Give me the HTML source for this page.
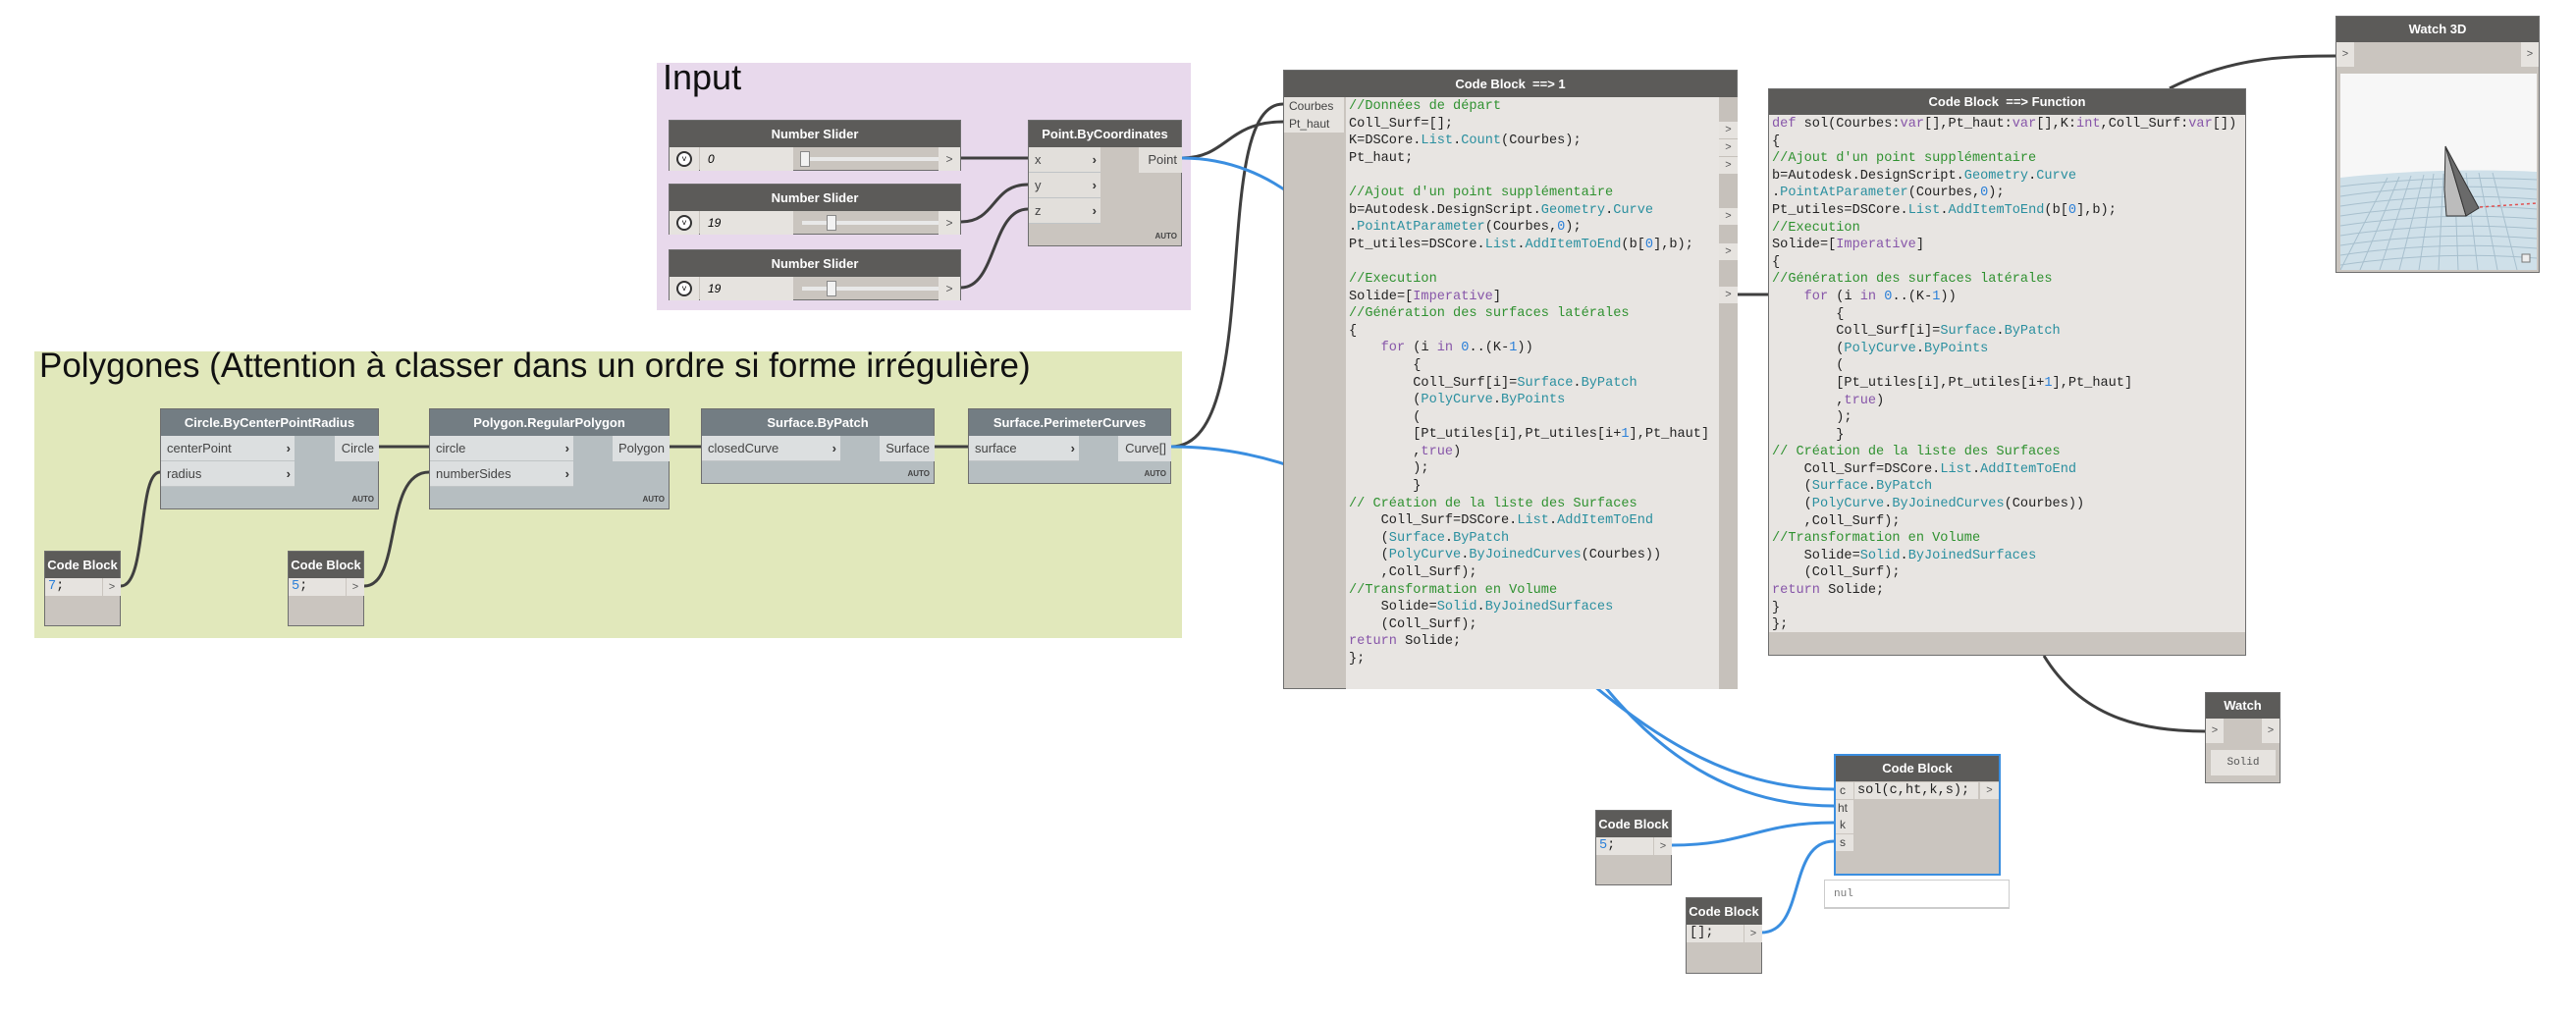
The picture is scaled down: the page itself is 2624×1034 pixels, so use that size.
<!DOCTYPE html>
<html><head><meta charset="utf-8">
<style>
*{box-sizing:border-box;margin:0;padding:0}
body{width:2624px;height:1034px;background:#fff;position:relative;overflow:hidden;font-family:"Liberation Sans","DejaVu Sans",sans-serif}
.a{position:absolute}
.grp{position:absolute}
.node{position:absolute;background:#cac5bf;border:1px solid #6e6e6e}
.hd{position:absolute;left:0;top:0;right:0;background:#5c5b59;color:#fff;font-size:13px;font-weight:bold;text-align:center}
.gn{background:#b6bec1}
.gn .hd{background:#737d83}
.prt{position:absolute;background:#dcdfe0;color:#444;font-size:13px;padding-left:6px;border-bottom:1px solid #c0c4c6}
.out{position:absolute;background:#dcdfe0;color:#444;font-size:13px;text-align:right;padding-right:5px}
.chev{position:absolute;right:4px;top:0;font-weight:bold;color:#333}
.auto{position:absolute;right:4px;font-size:8px;font-weight:bold;color:#444}
.row{position:absolute;background:#e6e3df}
pre{font-family:"Liberation Mono","DejaVu Sans Mono",monospace;font-size:13.6px;line-height:17.6px;color:#222}
.c{color:#2f9130}.k{color:#8756a9}.t{color:#2a8f9f}.n{color:#2a7fd8}
.cb{position:absolute;background:#e8e5e2}
</style></head><body>

<div class="grp" style="left:669px;top:64px;width:544px;height:252px;background:#e8d9ec"></div>
<div class="a" style="left:675px;top:58px;font-size:36px;color:#111">Input</div>
<div class="grp" style="left:35px;top:358px;width:1169px;height:292px;background:#e1e8bb"></div>
<div class="a" style="left:40px;top:353px;font-size:35px;color:#111">Polygones (Attention à classer dans un ordre si forme irrégulière)</div>

<svg class="a" style="left:0;top:0" width="2624" height="1034">
<g fill="none" stroke="#3f3f3f" stroke-width="3">
<path d="M979 161 L1047 161"/>
<path d="M979 226 C1015 226,1010 188,1047 188"/>
<path d="M979 293 C1015 293,1010 213,1047 213"/>
<path d="M386 455 L437 455"/>
<path d="M123 597 C150 597,140 481,163 481"/>
<path d="M371 597 C410 597,390 481,437 481"/>
<path d="M682 455 L714 455"/>
<path d="M952 455 L986 455"/>
<path d="M1193 455 C1290 455,1230 106,1307 106"/>
<path d="M1204 161 C1250 161,1250 124,1307 124"/>
<path d="M1770 300 L1801 300"/>
<path d="M2210 90 C2270 60,2320 57,2379 57"/>
<path d="M2082 668 C2120 730,2180 745,2246 745"/>
</g>
<g fill="none" stroke="#3a8ee0" stroke-width="3">
<path d="M1204 161 C1500 161,1500 821,1868 821"/>
<path d="M1193 455 C1500 455,1600 804,1868 804"/>
<path d="M1703 861 C1780 861,1790 838,1868 838"/>
<path d="M1794 950 C1840 950,1820 857,1868 857"/>
</g>
</svg>

<!-- sliders -->
<div class="node" style="left:681px;top:122px;width:298px;height:52px"><div class="hd" style="height:27px;line-height:27px">Number Slider</div>
<div class="row" style="left:0;top:27px;width:30px;height:24px"></div><div class="a" style="left:7px;top:31px;width:16px;height:16px;border:2px solid #333;border-radius:50%;background:#fff;font-size:9px;text-align:center;line-height:12px">˅</div>
<div class="row" style="left:31px;top:27px;width:95px;height:24px;font-style:italic;font-size:12px;line-height:24px;padding-left:8px">0</div>
<div class="a" style="left:135px;top:37px;width:140px;height:4px;background:#e8e8e8"></div>
<div class="a" style="left:133px;top:31px;width:10px;height:16px;background:#f2f2f2;border:1px solid #888"></div>
<div class="row" style="left:274px;top:27px;width:22px;height:24px;color:#555;font-size:12px;line-height:24px;text-align:center">&gt;</div></div>
<div class="node" style="left:681px;top:187px;width:298px;height:52px"><div class="hd" style="height:27px;line-height:27px">Number Slider</div>
<div class="row" style="left:0;top:27px;width:30px;height:24px"></div><div class="a" style="left:7px;top:31px;width:16px;height:16px;border:2px solid #333;border-radius:50%;background:#fff;font-size:9px;text-align:center;line-height:12px">˅</div>
<div class="row" style="left:31px;top:27px;width:95px;height:24px;font-style:italic;font-size:12px;line-height:24px;padding-left:8px">19</div>
<div class="a" style="left:135px;top:37px;width:140px;height:4px;background:#e8e8e8"></div>
<div class="a" style="left:160px;top:31px;width:10px;height:16px;background:#f2f2f2;border:1px solid #888"></div>
<div class="row" style="left:274px;top:27px;width:22px;height:24px;color:#555;font-size:12px;line-height:24px;text-align:center">&gt;</div></div>
<div class="node" style="left:681px;top:254px;width:298px;height:52px"><div class="hd" style="height:27px;line-height:27px">Number Slider</div>
<div class="row" style="left:0;top:27px;width:30px;height:24px"></div><div class="a" style="left:7px;top:31px;width:16px;height:16px;border:2px solid #333;border-radius:50%;background:#fff;font-size:9px;text-align:center;line-height:12px">˅</div>
<div class="row" style="left:31px;top:27px;width:95px;height:24px;font-style:italic;font-size:12px;line-height:24px;padding-left:8px">19</div>
<div class="a" style="left:135px;top:37px;width:140px;height:4px;background:#e8e8e8"></div>
<div class="a" style="left:160px;top:31px;width:10px;height:16px;background:#f2f2f2;border:1px solid #888"></div>
<div class="row" style="left:274px;top:27px;width:22px;height:24px;color:#555;font-size:12px;line-height:24px;text-align:center">&gt;</div></div>

<!-- Point.ByCoordinates -->
<div class="node" style="left:1047px;top:122px;width:157px;height:129px"><div class="hd" style="height:27px;line-height:27px">Point.ByCoordinates</div>
<div class="prt" style="left:0;top:27px;width:73px;height:26px;line-height:26px;background:#e2dfdb">x<span class="chev">›</span></div>
<div class="prt" style="left:0;top:53px;width:73px;height:26px;line-height:26px;background:#e2dfdb">y<span class="chev">›</span></div>
<div class="prt" style="left:0;top:79px;width:73px;height:26px;line-height:26px;background:#e2dfdb">z<span class="chev">›</span></div>
<div class="out" style="left:112px;top:27px;width:44px;height:26px;line-height:26px;background:#e2dfdb">Point</div>
<div class="auto" style="top:113px">AUTO</div></div>

<!-- polygon group nodes -->
<div class="node gn" style="left:163px;top:416px;width:223px;height:103px"><div class="hd" style="height:27px;line-height:27px">Circle.ByCenterPointRadius</div>
<div class="prt" style="left:0;top:27px;width:136px;height:26px;line-height:26px">centerPoint<span class="chev">›</span></div>
<div class="prt" style="left:0;top:53px;width:136px;height:26px;line-height:26px">radius<span class="chev">›</span></div>
<div class="out" style="left:177px;top:27px;width:45px;height:26px;line-height:26px">Circle</div>
<div class="auto" style="top:87px">AUTO</div></div>
<div class="node gn" style="left:437px;top:416px;width:245px;height:103px"><div class="hd" style="height:27px;line-height:27px">Polygon.RegularPolygon</div>
<div class="prt" style="left:0;top:27px;width:146px;height:26px;line-height:26px">circle<span class="chev">›</span></div>
<div class="prt" style="left:0;top:53px;width:146px;height:26px;line-height:26px">numberSides<span class="chev">›</span></div>
<div class="out" style="left:186px;top:27px;width:58px;height:26px;line-height:26px">Polygon</div>
<div class="auto" style="top:87px">AUTO</div></div>
<div class="node gn" style="left:714px;top:416px;width:238px;height:77px"><div class="hd" style="height:27px;line-height:27px">Surface.ByPatch</div>
<div class="prt" style="left:0;top:27px;width:141px;height:26px;line-height:26px">closedCurve<span class="chev">›</span></div>
<div class="out" style="left:181px;top:27px;width:56px;height:26px;line-height:26px">Surface</div>
<div class="auto" style="top:61px">AUTO</div></div>
<div class="node gn" style="left:986px;top:416px;width:207px;height:77px"><div class="hd" style="height:27px;line-height:27px">Surface.PerimeterCurves</div>
<div class="prt" style="left:0;top:27px;width:112px;height:26px;line-height:26px">surface<span class="chev">›</span></div>
<div class="out" style="left:152px;top:27px;width:54px;height:26px;line-height:26px">Curve[]</div>
<div class="auto" style="top:61px">AUTO</div></div>

<!-- small code blocks -->
<div class="node" style="left:45px;top:561px;width:78px;height:77px"><div class="hd" style="height:27px;line-height:27px">Code Block</div>
<div class="row" style="left:0;top:27px;width:58px;height:18px"><pre style="padding-left:3px;line-height:18px"><span class="n">7</span>;</pre></div>
<div class="row" style="left:59px;top:27px;width:18px;height:18px;font-size:11px;color:#555;text-align:center;line-height:18px">&gt;</div></div>
<div class="node" style="left:293px;top:561px;width:78px;height:77px"><div class="hd" style="height:27px;line-height:27px">Code Block</div>
<div class="row" style="left:0;top:27px;width:58px;height:18px"><pre style="padding-left:3px;line-height:18px"><span class="n">5</span>;</pre></div>
<div class="row" style="left:59px;top:27px;width:18px;height:18px;font-size:11px;color:#555;text-align:center;line-height:18px">&gt;</div></div>
<div class="node" style="left:1625px;top:825px;width:78px;height:77px"><div class="hd" style="height:27px;line-height:27px">Code Block</div>
<div class="row" style="left:0;top:27px;width:58px;height:18px"><pre style="padding-left:3px;line-height:18px"><span class="n">5</span>;</pre></div>
<div class="row" style="left:59px;top:27px;width:18px;height:18px;font-size:11px;color:#555;text-align:center;line-height:18px">&gt;</div></div>
<div class="node" style="left:1717px;top:914px;width:78px;height:78px"><div class="hd" style="height:27px;line-height:27px">Code Block</div>
<div class="row" style="left:0;top:27px;width:58px;height:18px"><pre style="padding-left:3px;line-height:18px">[];</pre></div>
<div class="row" style="left:59px;top:27px;width:18px;height:18px;font-size:11px;color:#555;text-align:center;line-height:18px">&gt;</div></div>

<!-- Code Block ==> 1 -->
<div class="node" style="left:1307px;top:71px;width:463px;height:631px"><div class="hd" style="height:27px;line-height:27px">Code Block &nbsp;==&gt; 1</div>
<div class="row" style="left:0;top:27px;width:61px;height:18px;font-size:12px;color:#444;padding-left:5px;line-height:18px">Courbes</div>
<div class="row" style="left:0;top:45px;width:61px;height:18px;font-size:12px;color:#444;padding-left:5px;line-height:18px">Pt_haut</div>
<div class="cb" style="left:63px;top:27px;width:380px;height:603px"></div>
<div class="a" style="left:443px;top:27px;width:19px;height:603px;background:#c6c1bb"></div>
<div class="a" style="left:443px;top:44px;width:19px;height:600px;font-size:11px;color:#555;text-align:center">
<div class="row" style="left:0;top:8px;width:19px;height:17px;line-height:17px">&gt;</div>
<div class="row" style="left:0;top:26px;width:19px;height:17px;line-height:17px">&gt;</div>
<div class="row" style="left:0;top:44px;width:19px;height:17px;line-height:17px">&gt;</div>
<div class="row" style="left:0;top:96px;width:19px;height:17px;line-height:17px">&gt;</div>
<div class="row" style="left:0;top:132px;width:19px;height:17px;line-height:17px">&gt;</div>
<div class="row" style="left:0;top:176px;width:19px;height:17px;line-height:17px">&gt;</div></div>
<pre class="a" style="left:66px;top:28px"><span class="c">//Données de départ</span>
Coll_Surf=[];
K=DSCore.<span class="t">List</span>.<span class="t">Count</span>(Courbes);
Pt_haut;

<span class="c">//Ajout d'un point supplémentaire</span>
b=Autodesk.DesignScript.<span class="t">Geometry</span>.<span class="t">Curve</span>
.<span class="t">PointAtParameter</span>(Courbes,<span class="n">0</span>);
Pt_utiles=DSCore.<span class="t">List</span>.<span class="t">AddItemToEnd</span>(b[<span class="n">0</span>],b);

<span class="c">//Execution</span>
Solide=[<span class="k">Imperative</span>]
<span class="c">//Génération des surfaces latérales</span>
{
    <span class="k">for</span> (i <span class="k">in</span> <span class="n">0</span>..(K-<span class="n">1</span>))
        {
        Coll_Surf[i]=<span class="t">Surface</span>.<span class="t">ByPatch</span>
        (<span class="t">PolyCurve</span>.<span class="t">ByPoints</span>
        (
        [Pt_utiles[i],Pt_utiles[i+<span class="n">1</span>],Pt_haut]
        ,<span class="k">true</span>)
        );
        }
<span class="c">// Création de la liste des Surfaces</span>
    Coll_Surf=DSCore.<span class="t">List</span>.<span class="t">AddItemToEnd</span>
    (<span class="t">Surface</span>.<span class="t">ByPatch</span>
    (<span class="t">PolyCurve</span>.<span class="t">ByJoinedCurves</span>(Courbes))
    ,Coll_Surf);
<span class="c">//Transformation en Volume</span>
    Solide=<span class="t">Solid</span>.<span class="t">ByJoinedSurfaces</span>
    (Coll_Surf);
<span class="k">return</span> Solide;
};</pre>
</div>

<!-- Code Block ==> Function -->
<div class="node" style="left:1801px;top:90px;width:487px;height:578px"><div class="hd" style="height:26px;line-height:26px">Code Block &nbsp;==&gt; Function</div>
<div class="cb" style="left:0;top:26px;width:485px;height:527px"></div>
<pre class="a" style="left:3px;top:27px"><span class="k">def</span> sol(Courbes:<span class="k">var</span>[],Pt_haut:<span class="k">var</span>[],K:<span class="k">int</span>,Coll_Surf:<span class="k">var</span>[])
{
<span class="c">//Ajout d'un point supplémentaire</span>
b=Autodesk.DesignScript.<span class="t">Geometry</span>.<span class="t">Curve</span>
.<span class="t">PointAtParameter</span>(Courbes,<span class="n">0</span>);
Pt_utiles=DSCore.<span class="t">List</span>.<span class="t">AddItemToEnd</span>(b[<span class="n">0</span>],b);
<span class="c">//Execution</span>
Solide=[<span class="k">Imperative</span>]
{
<span class="c">//Génération des surfaces latérales</span>
    <span class="k">for</span> (i <span class="k">in</span> <span class="n">0</span>..(K-<span class="n">1</span>))
        {
        Coll_Surf[i]=<span class="t">Surface</span>.<span class="t">ByPatch</span>
        (<span class="t">PolyCurve</span>.<span class="t">ByPoints</span>
        (
        [Pt_utiles[i],Pt_utiles[i+<span class="n">1</span>],Pt_haut]
        ,<span class="k">true</span>)
        );
        }
<span class="c">// Création de la liste des Surfaces</span>
    Coll_Surf=DSCore.<span class="t">List</span>.<span class="t">AddItemToEnd</span>
    (<span class="t">Surface</span>.<span class="t">ByPatch</span>
    (<span class="t">PolyCurve</span>.<span class="t">ByJoinedCurves</span>(Courbes))
    ,Coll_Surf);
<span class="c">//Transformation en Volume</span>
    Solide=<span class="t">Solid</span>.<span class="t">ByJoinedSurfaces</span>
    (Coll_Surf);
<span class="k">return</span> Solide;
}
};</pre>
</div>

<!-- Watch 3D -->
<div class="node" style="left:2379px;top:16px;width:208px;height:262px"><div class="hd" style="height:26px;line-height:26px">Watch 3D</div>
<div class="row" style="left:0;top:26px;width:18px;height:25px;font-size:11px;color:#555;text-align:center;line-height:25px">&gt;</div>
<div class="row" style="left:188px;top:26px;width:18px;height:25px;font-size:11px;color:#555;text-align:center;line-height:25px">&gt;</div>
<svg class="a" style="left:4px;top:58px" width="200" height="200">
<rect width="200" height="200" fill="#f7f7f7"/>
<path d="M0 106 Q100 95 200 100 L200 200 L0 200Z" fill="#cfe0e9"/>
<g stroke="#a3bccb" stroke-width="1" fill="none" opacity=".9">
<path d="M0 115 Q100 103 200 108"/><path d="M0 125 Q100 110 200 118"/><path d="M0 135 Q100 120 200 128"/><path d="M0 145 Q100 130 200 138"/><path d="M0 155 Q100 140 200 148"/><path d="M0 165 Q100 150 200 158"/><path d="M0 175 Q100 160 200 168"/><path d="M0 185 Q100 170 200 178"/><path d="M0 195 Q100 180 200 188"/>
<path d="M20 200 L60 105"/><path d="M40 200 L72 104"/><path d="M60 200 L85 103"/><path d="M80 200 L95 102"/><path d="M100 200 L105 102"/><path d="M120 200 L116 101"/><path d="M140 200 L128 101"/><path d="M160 200 L141 101"/><path d="M180 200 L155 101"/><path d="M0 200 L48 106"/>
</g>
<path d="M142 136 L200 132" stroke="#e05050" stroke-dasharray="3 3" stroke-width="1.5"/>
<polygon points="107,74 106,118 108,145 128,145" fill="#bcbcbc" stroke="#333"/>
<polygon points="107,74 128,145 141,137" fill="#6a6a6a" stroke="#333"/>
<rect x="185" y="184" width="8" height="8" fill="#eee" stroke="#777"/>
</svg></div>

<!-- Watch -->
<div class="node" style="left:2246px;top:705px;width:77px;height:93px"><div class="hd" style="height:26px;line-height:26px">Watch</div>
<div class="row" style="left:0;top:26px;width:18px;height:25px;font-size:11px;color:#555;text-align:center;line-height:25px">&gt;</div>
<div class="row" style="left:57px;top:26px;width:18px;height:25px;font-size:11px;color:#555;text-align:center;line-height:25px">&gt;</div>
<div class="row" style="left:5px;top:58px;width:66px;height:26px;font-size:11px;color:#555;text-align:center;line-height:26px;font-family:'Liberation Mono',monospace">Solid</div></div>

<!-- sol code block -->
<div class="node" style="left:1868px;top:768px;width:170px;height:124px;border:2px solid #3a8ee0"><div class="hd" style="height:26px;line-height:26px">Code Block</div>
<div class="row" style="left:0;top:27px;width:18px;height:17px;font-size:12px;color:#444;padding-left:4px;line-height:17px">c</div>
<div class="row" style="left:0;top:45px;width:18px;height:17px;font-size:12px;color:#444;padding-left:2px;line-height:17px">ht</div>
<div class="row" style="left:0;top:62px;width:18px;height:17px;font-size:12px;color:#444;padding-left:4px;line-height:17px">k</div>
<div class="row" style="left:0;top:80px;width:18px;height:17px;font-size:12px;color:#444;padding-left:4px;line-height:17px">s</div>
<div class="row" style="left:19px;top:27px;width:126px;height:17px"><pre style="padding-left:3px;line-height:17px">sol(c,ht,k,s);</pre></div>
<div class="row" style="left:147px;top:27px;width:19px;height:17px;font-size:11px;color:#555;text-align:center;line-height:17px">&gt;</div></div>
<div class="a" style="left:1858px;top:896px;width:189px;height:30px;border:1px solid #ccc;border-bottom:2px solid #ccc;background:#fff;font-family:'Liberation Mono',monospace;font-size:11px;color:#777;padding-left:9px;line-height:28px">nul</div>

</body></html>
